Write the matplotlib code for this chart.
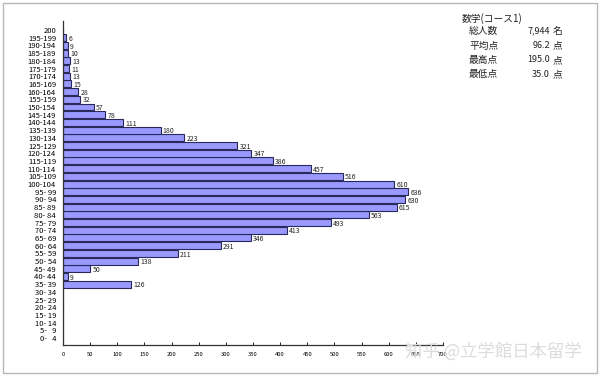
import numpy as np
import matplotlib; matplotlib.use("Agg")
import matplotlib.pyplot as plt
from matplotlib.patches import Rectangle

plt.rcParams['font.family'] = ['Noto Sans CJK JP', 'DejaVu Sans']

# score bins, bottom (0-4) to top (200)
bins = ['0-   4', '5-   9', '10- 14', '15- 19', '20- 24', '25- 29', '30- 34', '35- 39',
        '40- 44', '45- 49', '50- 54', '55- 59', '60- 64', '65- 69', '70- 74', '75- 79',
        '80- 84', '85- 89', '90- 94', '95- 99', '100-104', '105-109', '110-114', '115-119',
        '120-124', '125-129', '130-134', '135-139', '140-144', '145-149', '150-154', '155-159',
        '160-164', '165-169', '170-174', '175-179', '180-184', '185-189', '190-194', '195-199', '200']
counts = [0, 0, 0, 0, 0, 0, 0, 126, 9, 50, 138, 211, 291, 346, 413, 493,
          563, 615, 630, 636, 610, 516, 457, 386, 347, 321, 223, 180, 111, 78, 57, 32,
          28, 15, 13, 11, 13, 10, 9, 6, 0]
xticks = list(range(0, 701, 50))

stat_title = '数学(コース1)'
stat_names = ['総人数', '平均点', '最高点', '最低点']
stat_vals = ['7,944', '96.2', '195.0', '35.0']
stat_units = ['名', '点', '点', '点']

W, H = 600, 376
fig = plt.figure(figsize=(W/100, H/100), dpi=100)
ax = fig.add_axes([63/W, 1-345/H, 380/W, (345-21)/H])

y = np.arange(len(bins))
ax.barh(y, counts, height=0.9, color='#9999ff', edgecolor='#2a2a5a', linewidth=0.8)
for yi, c in zip(y, counts):
    if c > 0:
        ax.text(c + 4, yi - 0.15, str(c), fontsize=5, va='center', ha='left', color='#222')

ax.set_xlim(0, 700)
ax.set_ylim(-0.9, len(bins) - 1 + 1.17)
ax.set_yticks(y)
ax.set_yticklabels(bins, fontsize=5.5)
ax.set_xticks(xticks)
ax.set_xticklabels([str(t) for t in xticks], fontsize=4.2)
ax.tick_params(axis='y', length=0, pad=5)
ax.tick_params(axis='x', direction='in', length=2, pad=5, width=0.6)
for s in ['top', 'right']:
    ax.spines[s].set_visible(False)
for s in ['left', 'bottom']:
    ax.spines[s].set_color('#333')
    ax.spines[s].set_linewidth(0.9)

# statistics box
fig.text(462/W, 1-19/H, stat_title, fontsize=7, va='center', ha='left', color='#222')
for i, (n, v, u) in enumerate(zip(stat_names, stat_vals, stat_units)):
    yy = 1 - (31 + i*14.5)/H
    fig.text(469/W, yy, n, fontsize=7, va='center', ha='left', color='#222')
    fig.text(550/W, yy, v, fontsize=6.5, va='center', ha='right', color='#222')
    fig.text(553/W, yy, u, fontsize=7, va='center', ha='left', color='#222')

# watermark
fig.text(405/W, 1-352/H, '知乎 @立学館日本留学', fontsize=12.5, va='center', ha='left',
         color='#dcdcdc')

# outer border
fig.patches.append(Rectangle((3/W, 3/H), 594/W, 370/H, transform=fig.transFigure,
                             fill=False, edgecolor='#b8b8b8', linewidth=1))

fig.savefig('out.png', dpi=100)
